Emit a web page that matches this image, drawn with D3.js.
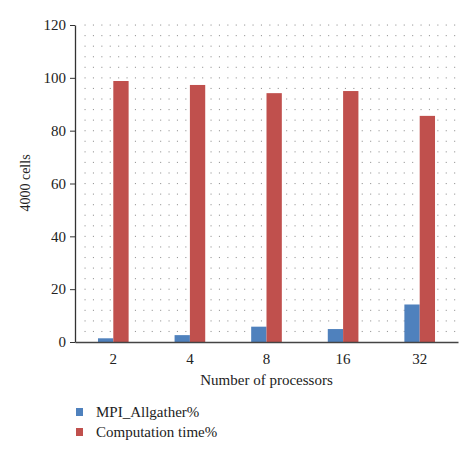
<!DOCTYPE html>
<html>
<head>
<meta charset="utf-8">
<script src="https://cdn.jsdelivr.net/npm/d3@7"></script>
<style>
  body { margin: 0; background: #fff; }
  svg text { font-family: "Liberation Serif", "Times New Roman", "DejaVu Serif", serif !important; fill: #222; }
</style>
</head>
<body>
<svg id="chart"></svg>
<script>
// Data
const processors = ['2', '4', '8', '16', '32'];
const allgather = [1.4, 2.6, 5.8, 4.9, 14.2];
const computation = [98.8, 97.3, 94.2, 95.0, 85.6];
const seriesNames = ['MPI_Allgather%', 'Computation time%'];
const seriesColors = ['#4F81BD', '#C0504D'];
const yTicks = [0, 20, 40, 60, 80, 100, 120];

const width = 474;
const height = 458;
const margin = { top: 25, right: 16, bottom: 116, left: 75 };
const serif = '"Liberation Serif", "Times New Roman", "DejaVu Serif", serif';

const svg = d3.select('#chart')
    .attr('width', width)
    .attr('height', height)
    .attr('font-family', serif);

const x = d3.scaleBand()
    .domain(processors)
    .range([margin.left, width - margin.right])
    .paddingInner(0.6)
    .paddingOuter(0.3);

const sub = d3.scaleBand()
    .domain(seriesNames)
    .range([0, x.bandwidth()]);

const y = d3.scaleLinear()
    .domain([0, 120])
    .range([height - margin.bottom, margin.top]);

// dotted background grid
const grid = svg.append('g');
const rows = d3.range(4, 121, 4);
const cols = d3.range(margin.left + 10, width - margin.right, 8.4);
rows.forEach(v => {
    grid.selectAll(null)
        .data(cols)
        .enter()
        .append('rect')
        .attr('x', d => d - 0.5)
        .attr('y', y(v) - 0.5)
        .attr('width', 1.1)
        .attr('height', 1.1)
        .attr('fill', '#9a9a9a');
});

// bars
const groups = svg.append('g')
    .selectAll('g')
    .data(processors)
    .enter()
    .append('g')
    .attr('transform', d => `translate(${x(d)},0)`);

groups.selectAll('rect')
    .data((d, i) => [
        { key: seriesNames[0], value: allgather[i], color: seriesColors[0] },
        { key: seriesNames[1], value: computation[i], color: seriesColors[1] }
    ])
    .enter()
    .append('rect')
    .attr('x', d => sub(d.key))
    .attr('y', d => y(d.value))
    .attr('width', sub.bandwidth())
    .attr('height', d => y(0) - y(d.value))
    .attr('fill', d => d.color);

// x axis
const xAxis = svg.append('g')
    .attr('transform', `translate(0,${y(0)})`)
    .call(d3.axisBottom(x).tickSize(0).tickPadding(11))
    .attr('font-family', serif);
xAxis.select('.domain').attr('stroke', '#444').attr('stroke-width', 1.3);
xAxis.selectAll('text').style('font-size', '15px');

// y axis
const yAxis = svg.append('g')
    .attr('transform', `translate(${margin.left},0)`)
    .call(d3.axisLeft(y).tickValues(yTicks).tickSize(5).tickSizeOuter(0).tickPadding(4))
    .attr('font-family', serif);
yAxis.select('.domain').attr('stroke', '#333').attr('stroke-width', 1.3);
yAxis.selectAll('line').attr('stroke', '#333');
yAxis.selectAll('text').style('font-size', '15px');

// axis titles
svg.append('text')
    .attr('x', (margin.left + width - margin.right) / 2)
    .attr('y', 385)
    .attr('text-anchor', 'middle')
    .style('font-size', '15px')
    .text('Number of processors');

svg.append('text')
    .attr('transform', 'rotate(-90)')
    .attr('x', -183)
    .attr('y', 30)
    .attr('text-anchor', 'middle')
    .style('font-size', '14px')
    .text('4000 cells');

// legend
const legend = svg.append('g')
    .selectAll('g')
    .data(seriesNames)
    .enter()
    .append('g')
    .attr('transform', (d, i) => `translate(76,${408 + i * 20})`);

legend.append('rect')
    .attr('width', 7)
    .attr('height', 8)
    .attr('fill', (d, i) => seriesColors[i]);

legend.append('text')
    .attr('x', 20)
    .attr('y', 9)
    .style('font-size', '15px')
    .text(d => d);
</script>
</body>
</html>
